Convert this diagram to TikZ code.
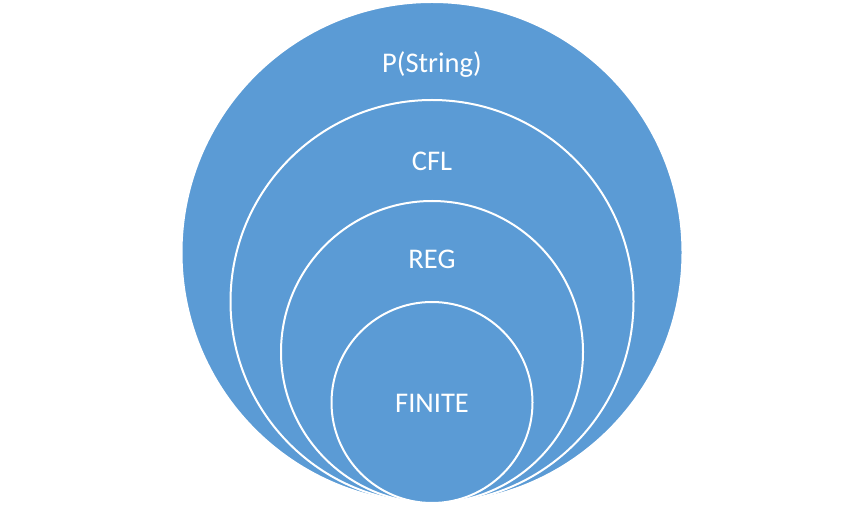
\documentclass[tikz,border=0pt]{standalone}
\usepackage{fontspec}
\setmainfont{Carlito}
\definecolor{setblue}{HTML}{5B9BD5}

\begin{document}
\begin{tikzpicture}[x=1pt,y=1pt]
    \useasboundingbox (0,0) rectangle (864,506);
    \tikzset{langset/.style={circle, draw=white, line width=2pt, fill=setblue, inner sep=0pt},
             langname/.style={text=white, font=\fontsize{28.5}{34}\selectfont, anchor=base}}

    \node [langset] [minimum size=501pt] (pstring) at (432,253.5) {};
    \node [langset] [minimum size=403pt] (cfl) at (432,204.5) {};
    \node [langset] [minimum size=302pt] (reg) at (432,154) {};
    \node [langset] [minimum size=201pt] (finite) at (432,103.5) {};

    \node [langname] (pstringname) at (432,433) {P(String)};
    \node [langname] (cflname) at (432,335.3) {CFL};
    \node [langname] (regname) at (432,237.7) {REG};
    \node [langname] (finitename) at (432,94) {FINITE};

\end{tikzpicture}
\end{document}
